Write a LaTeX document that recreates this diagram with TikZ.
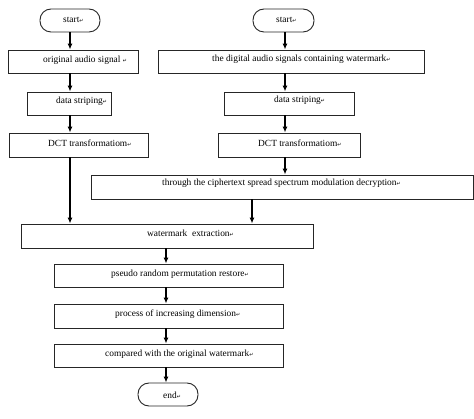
\documentclass[tikz,border=0pt]{standalone}
\usepackage{fontspec}
\setmainfont{Liberation Serif}
\newfontfamily\dejavu{DejaVu Sans}
\usetikzlibrary{arrows.meta}
\newcommand\retmark{{\fontsize{5}{5}\selectfont\dejavu ↵}}
\begin{document}
\begin{tikzpicture}[x=1pt,y=-1pt,
  box/.style={draw=black!85,line width=0.9pt,rectangle,inner sep=0pt},
  term/.style={draw=black!85,line width=0.9pt,rectangle,rounded corners=11pt,inner sep=0pt},
  txt/.style={anchor=west,inner sep=0pt,font=\fontsize{9.4}{10}\selectfont},
  arr/.style={line width=1.3pt,-{Latex[length=6pt,width=5pt]}}]
\useasboundingbox (0,0) rectangle (474,419);
% boxes
\node[term,minimum width=60pt,minimum height=23pt] (startL) at (70,20.5) {};
\node[box,minimum width=130pt,minimum height=23pt] (origL) at (73,61.5) {};
\node[box,minimum width=84pt,minimum height=23pt] (dsL) at (69,103.5) {};
\node[box,minimum width=139pt,minimum height=24pt] (dctL) at (78.5,145) {};
\node[term,minimum width=61pt,minimum height=23pt] (startR) at (283.5,20.5) {};
\node[box,minimum width=266pt,minimum height=23pt] (digR) at (291,61.5) {};
\node[box,minimum width=130pt,minimum height=23pt] (dsR) at (289,103.5) {};
\node[box,minimum width=142pt,minimum height=24pt] (dctR) at (289,145) {};
\node[box,minimum width=382pt,minimum height=24pt] (ciph) at (282,187) {};
\node[box,minimum width=292pt,minimum height=24pt] (wm) at (167,236) {};
\node[box,minimum width=229pt,minimum height=23pt] (pseudo) at (168.5,275.5) {};
\node[box,minimum width=229pt,minimum height=24pt] (proc) at (168.5,316) {};
\node[box,minimum width=229pt,minimum height=23pt] (comp) at (168.5,355.5) {};
\node[term,minimum width=60pt,minimum height=23pt] (endN) at (168,394.5) {};
% texts
\node[txt] (t1) at (63,20) {start\retmark};
\node[txt] (t2) at (43,60) {original audio signal \retmark};
\node[txt] (t3) at (56,101) {data striping\retmark};
\node[txt] (t4) at (48,143) {DCT transformatiom\retmark};
\node[txt] (t5) at (276,20) {start\retmark};
\node[txt] (t6) at (212,59) {the digital audio signals containing watermark\retmark};
\node[txt] (t7) at (274,100) {data striping\retmark};
\node[txt] (t8) at (258,143) {DCT transformatiom\retmark};
\node[txt] (t9) at (162,183) {through the ciphertext spread spectrum modulation decryption\retmark};
\node[txt] (t10) at (147,233) {watermark\ \ extraction\retmark};
\node[txt] (t11) at (111,274) {pseudo random permutation restore\retmark};
\node[txt] (t12) at (115,314) {process of increasing dimension\retmark};
\node[txt] (t13) at (105,354) {compared with the original watermark\retmark};
\node[txt] (t14) at (163,395) {end\retmark};
% column coordinates
\coordinate (colL) at (70,0);
\coordinate (colR) at (285,0);
\coordinate (colX) at (252,0);
\coordinate (colC) at (166,0);
% arrows
\draw[arr] (startL.south -| colL) -- (origL.north -| colL);
\draw[arr] (origL.south -| colL) -- (dsL.north -| colL);
\draw[arr] (dsL.south -| colL) -- (dctL.north -| colL);
\draw[arr] (dctL.south -| colL) -- (wm.north -| colL);
\draw[arr] (startR.south -| colR) -- (digR.north -| colR);
\draw[arr] (digR.south -| colR) -- (dsR.north -| colR);
\draw[arr] (dsR.south -| colR) -- (dctR.north -| colR);
\draw[arr] (dctR.south -| colR) -- (ciph.north -| colR);
\draw[arr] (ciph.south -| colX) -- (wm.north -| colX);
\draw[arr] (wm.south -| colC) -- (pseudo.north -| colC);
\draw[arr] (pseudo.south -| colC) -- (proc.north -| colC);
\draw[arr] (proc.south -| colC) -- (comp.north -| colC);
\draw[arr] (comp.south -| colC) -- (endN.north -| colC);
\end{tikzpicture}
\end{document}
